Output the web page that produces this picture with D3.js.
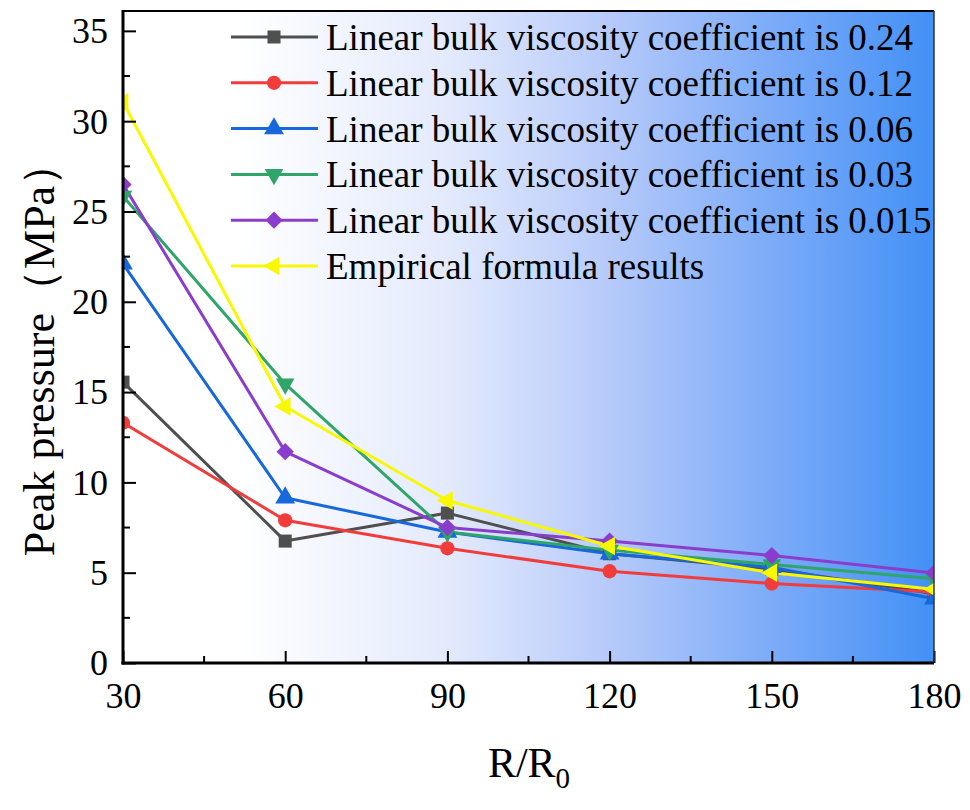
<!DOCTYPE html>
<html>
<head>
<meta charset="utf-8">
<script src="https://cdn.jsdelivr.net/npm/d3@7"></script>
<style>
  body { margin: 0; background: #fff; }
  text { font-family: "Liberation Serif", "Times New Roman", serif; fill: #000; }
</style>
</head>
<body>
<script>
// R/R0 positions
const xValues = [30, 60, 90, 120, 150, 180];

// Peak pressure (MPa) per series
const seriesNames = [
  'Linear bulk viscosity coefficient is 0.24',
  'Linear bulk viscosity coefficient is 0.12',
  'Linear bulk viscosity coefficient is 0.06',
  'Linear bulk viscosity coefficient is 0.03',
  'Linear bulk viscosity coefficient is 0.015',
  'Empirical formula results'
];
const coef024 = [15.55, 6.75, 8.3, 6.05, 5.2, 3.85];
const coef012 = [13.3, 7.9, 6.35, 5.08, 4.4, 3.93];
const coef006 = [22.1, 9.15, 7.25, 6.05, 5.3, 3.56];
const coef003 = [25.85, 15.45, 7.25, 6.25, 5.45, 4.67];
const coef0015 = [26.5, 11.7, 7.5, 6.75, 5.95, 4.98];
const empirical = [31.05, 14.2, 9.0, 6.48, 5.0, 4.08];

const xTicks = [30, 60, 90, 120, 150, 180];
const yTicks = [0, 5, 10, 15, 20, 25, 30, 35];

const colors = ['#4f4f4f', '#f23c3c', '#1767dd', '#2fa56a', '#8a3dcd', '#f8f800'];
const shapes = ['square', 'circle', 'triangleUp', 'triangleDown', 'diamond', 'triangleLeft'];
const allSeries = [coef024, coef012, coef006, coef003, coef0015, empirical];

const W = 970, H = 810;
const margin = { top: 11, right: 36, bottom: 147, left: 123 };
const x0 = margin.left, x1 = W - margin.right;
const y0 = H - margin.bottom, y1 = margin.top;

const svg = d3.select('body').append('svg')
  .attr('width', W).attr('height', H);

const xScale = d3.scaleLinear().domain([30, 180]).range([x0, x1]);
const yScale = d3.scaleLinear().domain([0, 36.1]).range([y0, y1]);

// background gradient
const defs = svg.append('defs');
const grad = defs.append('linearGradient').attr('id', 'bg')
  .attr('x1', '0%').attr('x2', '100%').attr('y1', '0%').attr('y2', '0%');
[[0, '#ffffff'], [0.14, '#ffffff'], [0.4, '#e3eafc'], [0.6, '#b6cafa'],
 [0.8, '#7cabf8'], [1, '#4290f6']].forEach(([o, c]) => {
  grad.append('stop').attr('offset', o).attr('stop-color', c);
});
defs.append('clipPath').attr('id', 'clip')
  .append('rect').attr('x', x0).attr('y', y1).attr('width', x1 - x0).attr('height', y0 - y1);

svg.append('rect')
  .attr('x', x0).attr('y', y1).attr('width', x1 - x0).attr('height', y0 - y1)
  .attr('fill', 'url(#bg)');

// marker path by shape name
function markerPath(shape) {
  switch (shape) {
    case 'square': return d3.symbol(d3.symbolSquare, 170)();
    case 'circle': return d3.symbol(d3.symbolCircle, 160)();
    case 'triangleUp': return d3.symbol(d3.symbolTriangle, 170)();
    case 'triangleDown': return d3.symbol(d3.symbolTriangle, 150)();
    case 'diamond': return d3.symbol(d3.symbolSquare, 150)();
    case 'triangleLeft': return d3.symbol(d3.symbolTriangle, 150)();
  }
}
const markerRotate = { square: 0, circle: 0, triangleUp: 0, triangleDown: 180, diamond: 45, triangleLeft: -90 };

const line = d3.line()
  .x((d, i) => xScale(xValues[i]))
  .y(d => yScale(d));

const plot = svg.append('g').attr('clip-path', 'url(#clip)');

allSeries.forEach((vals, s) => {
  plot.append('path')
    .datum(vals)
    .attr('fill', 'none')
    .attr('stroke', colors[s])
    .attr('stroke-width', 3)
    .attr('stroke-linejoin', 'round')
    .attr('d', line);
});
allSeries.forEach((vals, s) => {
  plot.selectAll(null)
    .data(vals)
    .join('path')
    .attr('d', markerPath(shapes[s]))
    .attr('fill', colors[s])
    .attr('transform', (d, i) => `translate(${xScale(xValues[i])},${yScale(d)}) rotate(${markerRotate[shapes[s]]})`);
});

// axes (ticks inward)
const xAxis = d3.axisBottom(xScale).tickValues(xTicks).tickSize(-12).tickFormat(d3.format('d'));
const yAxis = d3.axisLeft(yScale).tickValues(yTicks).tickSize(-13).tickFormat(d3.format('d'));

const gx = svg.append('g').attr('transform', `translate(0,${y0})`).call(xAxis);
const gy = svg.append('g').attr('transform', `translate(${x0},0)`).call(yAxis);

[gx, gy].forEach(g => {
  g.select('.domain').remove();
  g.selectAll('.tick line').attr('stroke', '#000').attr('stroke-width', 2);
  g.selectAll('.tick text').attr('font-size', 36).attr('font-family', '"Liberation Serif", serif').attr('fill', '#000');
});
gx.selectAll('.tick text').attr('y', 45).attr('dy', 0);
gy.selectAll('.tick text').attr('x', -15).attr('dy', '0.33em');

// minor ticks
const xMinor = d3.range(45, 180, 30);
const yMinor = d3.range(2.5, 36, 5);
svg.append('g').selectAll('line').data(xMinor).join('line')
  .attr('x1', d => xScale(d)).attr('x2', d => xScale(d))
  .attr('y1', y0).attr('y2', y0 - 7)
  .attr('stroke', '#000').attr('stroke-width', 2);
svg.append('g').selectAll('line').data(yMinor).join('line')
  .attr('x1', x0).attr('x2', x0 + 7)
  .attr('y1', d => yScale(d)).attr('y2', d => yScale(d))
  .attr('stroke', '#000').attr('stroke-width', 2);

// frame
svg.append('line').attr('x1', x0).attr('x2', x1).attr('y1', y1).attr('y2', y1)
  .attr('stroke', '#000').attr('stroke-width', 2);
svg.append('line').attr('x1', x1).attr('x2', x1).attr('y1', y1).attr('y2', y0)
  .attr('stroke', '#333').attr('stroke-width', 1.5);
svg.append('line').attr('x1', x0).attr('x2', x0).attr('y1', y1 - 1).attr('y2', y0 + 1.5)
  .attr('stroke', '#000').attr('stroke-width', 3);
svg.append('line').attr('x1', x0 - 1.5).attr('x2', x1).attr('y1', y0).attr('y2', y0)
  .attr('stroke', '#000').attr('stroke-width', 3);

// axis titles
const xt = svg.append('text')
  .attr('x', 529).attr('y', 777)
  .attr('text-anchor', 'middle')
  .attr('font-size', 42);
xt.append('tspan').text('R/R');
xt.append('tspan').attr('font-size', 29).attr('dy', 11).text('0');

svg.append('text')
  .attr('transform', `translate(54,349) rotate(-90)`)
  .attr('text-anchor', 'middle')
  .attr('font-size', 44)
  .text('Peak pressure（MPa）');

// legend
const legend = svg.append('g');
const legendY = d3.range(6).map(i => 37 + i * 45.8);
seriesNames.forEach((name, s) => {
  const g = legend.append('g').attr('transform', `translate(0,${legendY[s]})`);
  g.append('line').attr('x1', 231).attr('x2', 318).attr('y1', 0).attr('y2', 0)
    .attr('stroke', colors[s]).attr('stroke-width', 3);
  g.append('path').attr('d', markerPath(shapes[s])).attr('fill', colors[s])
    .attr('transform', `translate(274,0) rotate(${markerRotate[shapes[s]]})`);
  g.append('text').attr('x', 326).attr('y', 0).attr('dy', '0.35em')
    .attr('font-size', 37).text(name);
});
</script>
</body>
</html>
